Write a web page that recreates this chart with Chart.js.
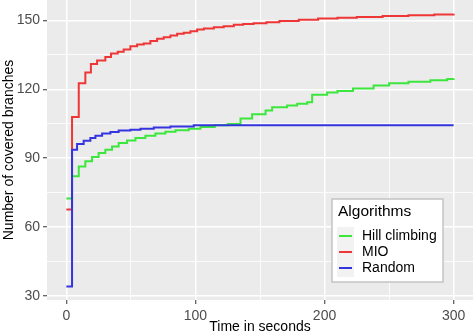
<!DOCTYPE html>
<html>
<head>
<meta charset="utf-8">
<script src="https://cdn.jsdelivr.net/npm/chart.js@4.4.1/dist/chart.umd.min.js"></script>
<style>
html, body { margin: 0; padding: 0; background: #fff; }
</style>
</head>
<body>
<canvas id="chart" width="474" height="333"></canvas>
<script>
// coverage over time (step curves)
const hillTime = [0, 4.4, 9.6, 14.7, 19.9, 25, 30.2, 35.4, 40.5, 47, 53.5, 61.2, 69, 76.7, 84.5, 94.8, 103.9, 115, 125, 134.9,
    143.9, 154.3, 159.4, 171, 178.8, 186.6, 190.4, 202, 210, 222, 238, 250, 265, 282, 295, 300];
const hillCov = [72.4, 82.1, 86.4, 88.6, 90.5, 92.2, 93.7, 95.1, 96.6, 97.7, 98.8, 99.8, 100.7, 101.5, 102.1, 102.8, 103.6, 104.3, 104.9, 107.3,
    109.1, 110.8, 112.2, 112.9, 113.7, 114.4, 117.6, 118.6, 119.3, 120.3, 121.6, 122.6, 123.3, 123.9, 124.5, 124.7];

const mioTime = [0, 4.4, 9.6, 14.7, 19, 23.8, 30.2, 34.6, 39.8, 44.4, 49.6, 54.8, 59.9, 65.1, 70.3, 75.4, 80.6, 85.8, 90.9, 96.1,
    101.3, 106.5, 114.2, 121.9, 129.7, 137, 145, 155, 165, 180, 195, 210, 225, 245, 265, 285, 300];
const mioCov = [67.6, 107.9, 122.6, 127.3, 131, 132.5, 134.1, 135.6, 136.3, 137.3, 138.8, 139.5, 140, 141, 142, 142.7, 143.4, 144.2, 144.6, 145.3,
    146, 146.5, 147, 147.5, 148.1, 148.4, 148.8, 149.2, 149.7, 150.3, 150.8, 151.2, 151.5, 151.9, 152.3, 152.6, 152.9];

const randTime = [0, 4.4, 8.3, 13.4, 18.6, 22.5, 27.7, 34.1, 40.5, 49.6, 57.4, 67.7, 80.6, 98.7, 300];
const randCov = [34.1, 93.7, 96.2, 97.6, 98.8, 99.8, 100.7, 101.4, 102, 102.4, 102.8, 103.4, 103.8, 104.3, 104.3];

const seriesLabels = ['Hill climbing', 'MIO', 'Random'];
const seriesColors = ['#3de63d', '#ee3636', '#3535e0'];

const xTicksMajor = [0, 100, 200, 300];
const yTicksMajor = [30, 60, 90, 120, 150];

function _toPoints(times, values) {
    return times.map((t, i) => ({x: t, y: values[i]}));
}

const FONT = '"Liberation Sans", Arial, sans-serif';

const panelBackground = {
    id: 'panelBackground',
    beforeDraw(chart) {
        const ctx = chart.ctx;
        const area = chart.chartArea;
        ctx.save();
        ctx.fillStyle = '#ffffff';
        ctx.fillRect(0, 0, chart.width, chart.height);
        ctx.fillStyle = '#ebebeb';
        ctx.fillRect(area.left, area.top, area.right - area.left, area.bottom - area.top);
        ctx.restore();
    }
};

// ggplot-like legend placed inside the panel
const insideLegend = {
    id: 'insideLegend',
    afterDraw(chart) {
        const ctx = chart.ctx;
        const area = chart.chartArea;
        const x0 = area.right - 141, y0 = area.bottom - 101;
        const w = 111, h = 83;
        ctx.save();
        ctx.fillStyle = '#ffffff';
        ctx.fillRect(x0, y0, w, h);
        ctx.strokeStyle = '#c4c4c4';
        ctx.lineWidth = 1.5;
        ctx.strokeRect(x0, y0, w, h);

        ctx.fillStyle = '#000000';
        ctx.textBaseline = 'middle';
        ctx.textAlign = 'left';
        ctx.font = '15.5px ' + FONT;
        ctx.fillText('Algorithms', x0 + 6, y0 + 13);

        ctx.fillStyle = '#f2f2f2';
        ctx.fillRect(x0 + 5, y0 + 28, 17, 50);

        ctx.font = '14px ' + FONT;
        chart.data.datasets.forEach((ds, i) => {
            const cy = y0 + 37 + i * 16;
            ctx.strokeStyle = ds.borderColor;
            ctx.lineWidth = 2;
            ctx.beginPath();
            ctx.moveTo(x0 + 7, cy);
            ctx.lineTo(x0 + 20, cy);
            ctx.stroke();
            ctx.fillStyle = '#000000';
            ctx.fillText(ds.label, x0 + 30, cy);
        });
        ctx.restore();
    }
};

new Chart(document.getElementById('chart'), {
    type: 'line',
    data: {
        datasets: [
            {label: seriesLabels[0], data: _toPoints(hillTime, hillCov), borderColor: seriesColors[0], order: 2},
            {label: seriesLabels[1], data: _toPoints(mioTime, mioCov), borderColor: seriesColors[1], order: 1},
            {label: seriesLabels[2], data: _toPoints(randTime, randCov), borderColor: seriesColors[2], order: 0}
        ]
    },
    options: {
        responsive: false,
        animation: false,
        devicePixelRatio: 1,
        layout: {
            padding: {top: 0, right: 1, bottom: 0, left: 0}
        },
        elements: {
            line: {
                stepped: 'before',
                borderWidth: 2,
                tension: 0
            },
            point: {
                radius: 0
            }
        },
        scales: {
            x: {
                type: 'linear',
                min: -15,
                max: 315,
                afterFit: function(scale) {
                    scale.height = 33;
                    scale.paddingLeft = 0;
                    scale.paddingRight = 0;
                },
                border: {display: false},
                grid: {
                    color: '#ffffff',
                    lineWidth: ctx => xTicksMajor.includes(ctx.tick.value) ? 1.5 : 0.8,
                    tickColor: ctx => xTicksMajor.includes(ctx.tick.value) ? '#333333' : 'rgba(0,0,0,0)',
                    tickWidth: 1,
                    tickLength: 4
                },
                ticks: {
                    stepSize: 50,
                    includeBounds: false,
                    maxRotation: 0,
                    autoSkip: false,
                    padding: 4,
                    color: '#4d4d4d',
                    font: {family: FONT, size: 14},
                    callback: function(value) {
                        return xTicksMajor.includes(value) ? String(value) : '';
                    }
                },
                title: {
                    display: true,
                    text: 'Time in seconds',
                    color: '#000000',
                    padding: {top: 0, bottom: -3},
                    font: {family: FONT, size: 14}
                }
            },
            y: {
                type: 'linear',
                min: 28.2,
                max: 158.9,
                afterFit: function(scale) {
                    scale.width = 47;
                    scale.paddingTop = 0;
                    scale.paddingBottom = 0;
                },
                border: {display: false},
                grid: {
                    color: '#ffffff',
                    lineWidth: ctx => yTicksMajor.includes(ctx.tick.value) ? 1.5 : 0.8,
                    tickColor: ctx => yTicksMajor.includes(ctx.tick.value) ? '#333333' : 'rgba(0,0,0,0)',
                    tickWidth: 1,
                    tickLength: 4
                },
                ticks: {
                    stepSize: 15,
                    includeBounds: false,
                    autoSkip: false,
                    padding: 3,
                    color: '#4d4d4d',
                    font: {family: FONT, size: 14},
                    callback: function(value) {
                        return yTicksMajor.includes(value) ? String(value) : '';
                    }
                },
                title: {
                    display: true,
                    text: 'Number of covered branches',
                    color: '#000000',
                    padding: {top: 1, bottom: 0},
                    font: {family: FONT, size: 14}
                }
            }
        },
        plugins: {
            legend: {display: false},
            tooltip: {enabled: false}
        }
    },
    plugins: [panelBackground, insideLegend]
});
</script>
</body>
</html>
